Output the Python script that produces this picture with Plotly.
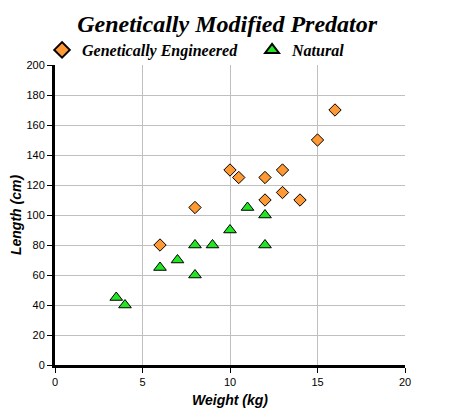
import plotly.graph_objects as go

ge_weight = [6, 8, 10, 10.5, 12, 12, 13, 13, 14, 15, 16]
ge_length = [80, 105, 130, 125, 125, 110, 130, 115, 110, 150, 170]

nat_weight = [3.5, 4, 6, 7, 8, 8, 9, 10, 11, 12, 12]
nat_length = [45, 40, 65, 70, 80, 60, 80, 90, 105, 100, 80]

x_ticks = [0, 5, 10, 15, 20]
y_ticks = [0, 20, 40, 60, 80, 100, 120, 140, 160, 180, 200]

fig = go.Figure()
fig.add_trace(go.Scatter(
    x=ge_weight, y=ge_length, mode="markers", name="<b><i>Genetically Engineered</i></b>",
    marker=dict(symbol="diamond", size=9.5, color="#ff9933",
                line=dict(color="black", width=1)),
    legend="legend",
))
fig.add_trace(go.Scatter(
    x=nat_weight, y=nat_length, mode="markers", name="<b><i>Natural</i></b>",
    marker=dict(symbol="triangle-up", size=11, color="#22e622",
                line=dict(color="black", width=1)),
    legend="legend2",
))

axis_common = dict(
    showline=True, linecolor="black", linewidth=3, mirror=False,
    showgrid=True, gridcolor="#c0c0c0", gridwidth=1, zeroline=False,
    ticks="outside", ticklen=5, tickcolor="black", tickwidth=1,
    tickfont=dict(family="Liberation Sans", size=11, color="black"),
    automargin=False,
)

fig.update_xaxes(range=[0, 20], tickvals=x_ticks, **axis_common,
                 title=dict(text="<b><i>Weight (kg)</i></b>", standoff=8,
                            font=dict(family="Liberation Sans", size=14, color="black")))
fig.update_yaxes(range=[0, 200], tickvals=y_ticks, **axis_common,
                 title=dict(text="<b><i>Length (cm)</i></b>", standoff=2,
                            font=dict(family="Liberation Sans", size=14, color="black")))

legend_common = dict(
    orientation="h", xanchor="left", y=1.05, yanchor="middle",
    font=dict(family="Liberation Serif", size=16, color="black"),
    itemsizing="constant", bgcolor="rgba(0,0,0,0)",
)

fig.update_layout(
    width=450, height=420,
    margin=dict(l=47, r=53, t=57, b=63, autoexpand=False),
    paper_bgcolor="white", plot_bgcolor="white",
    title=dict(text="<b><i>Genetically Modified Predator</i></b>", x=0.487, xanchor="center",
               y=0.964, yanchor="middle", yref="container",
               font=dict(family="Liberation Serif", size=24, color="black")),
    legend=dict(x=-0.037, **legend_common),
    legend2=dict(x=0.563, **legend_common),
    showlegend=True,
)

fig.write_html("out.html")
